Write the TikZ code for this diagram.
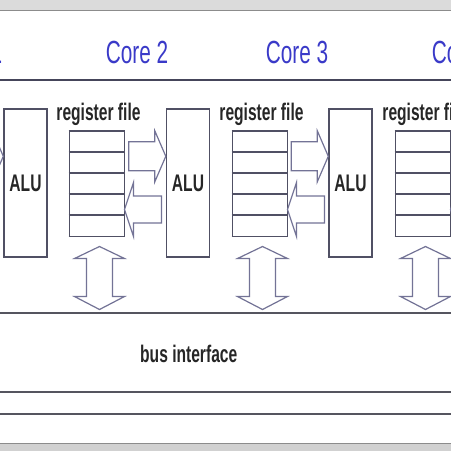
\documentclass[tikz,border=0pt]{standalone}
\usepackage{fontspec}
\setmainfont{Liberation Sans}[FakeStretch=0.65]
\usepackage{tikz}
\usetikzlibrary{calc,positioning}
\definecolor{boxcol}{RGB}{80,80,100}
\definecolor{arrcol}{RGB}{115,115,150}
\definecolor{corecol}{RGB}{58,58,200}
\definecolor{rulecol}{RGB}{85,85,95}
\tikzset{
  >=latex,
}
\tikzstyle{every node}=[font=\bfseries\fontsize{24}{28}\selectfont,inner sep=0pt]
\tikzstyle{core}=[font=\fontsize{32}{36}\selectfont,text=corecol,anchor=base]
\tikzstyle{alu}=[draw=boxcol,line width=1.4pt,minimum width=43pt,minimum height=148pt,text=black!85]
\tikzstyle{regfile}=[draw=boxcol,line width=1pt,minimum width=55pt,minimum height=105pt]
\tikzstyle{regline}=[boxcol,line width=1.8pt]
\tikzstyle{block}=[draw=arrcol,line width=1.2pt,fill=white,line join=miter]
\tikzstyle{rule}=[rulecol,line width=1.8pt]

\begin{document}
\begin{tikzpicture}[x=1pt,y=-1pt]
  \useasboundingbox (0,0) rectangle (451,451);
  \clip (0,0) rectangle (451,451);
  % window edges and bus lines
  \fill[black!14] (0,0) rectangle (451,10);
  \fill[black!18] (0,443) rectangle (451,451);
  \draw[black!45,line width=1pt] (0,10) -- (451,10);
  \draw[black!45,line width=1pt] (0,443) -- (451,443);
  \draw[black!40!arrcol,line width=2pt] (0,80) -- (451,80);
  \coordinate (bustop) at (0,313);
  \draw[rule] (bustop) -- (451,313);
  \draw[rule] (0,392) -- (451,392);
  \draw[rule] (0,414) -- (451,414);
  \node[anchor=base west,text=black!85] (bus) at (140,362) {bus interface};

  \foreach \k/\cx in {1/-29,2/137,3/297,4/463}{
    \pgfmathsetmacro\ax{25.5+162.5*(\k-1)}
    \pgfmathsetmacro\rx{96.5+163*(\k-2)}
    \node[core] (core\k) at (\cx,63) {Core \k};
    \node[alu] (alu\k) at (\ax,183) {ALU};
    \node[regfile] (rf\k) at (\rx,183.5) {};
    \foreach \r in {0,...,5}
      \draw[regline] ($(rf\k.north west)!\r/5!(rf\k.south west)$) -- ($(rf\k.north east)!\r/5!(rf\k.south east)$);
    \node[anchor=base,text=black!85] (rfl\k) at ($(rf\k.north)+(2,-10)$) {register file};
    % register file -> ALU
    \coordinate (in\k) at ($(alu\k.north west)+(0,48)$);
    \draw[block] (in\k) -- ++(-11,-25.5) -- ++(0,11) -- ++(-26,0) -- ++(0,29) -- ++(26,0) -- ++(0,11) -- cycle;
    % ALU -> register file
    \coordinate (out\k) at ($(rf\k.north east)+(0,79)$);
    \draw[block] (out\k) -- ++(9,-27) -- ++(0,13.5) -- ++(28,0) -- ++(0,27) -- ++(-28,0) -- ++(0,13.5) -- cycle;
    % register file <-> bus
    \coordinate (up\k) at ($(rf\k.south)+(3,10)$);
    \draw[block] (up\k) -- ++(25,12) -- ++(-12,0) -- ++(0,38) -- ++(12,0) -- ++(-25,13) -- ++(-25,-13) -- ++(12,0) -- ++(0,-38) -- ++(-12,0) -- cycle;
  }
\end{tikzpicture}
\end{document}
